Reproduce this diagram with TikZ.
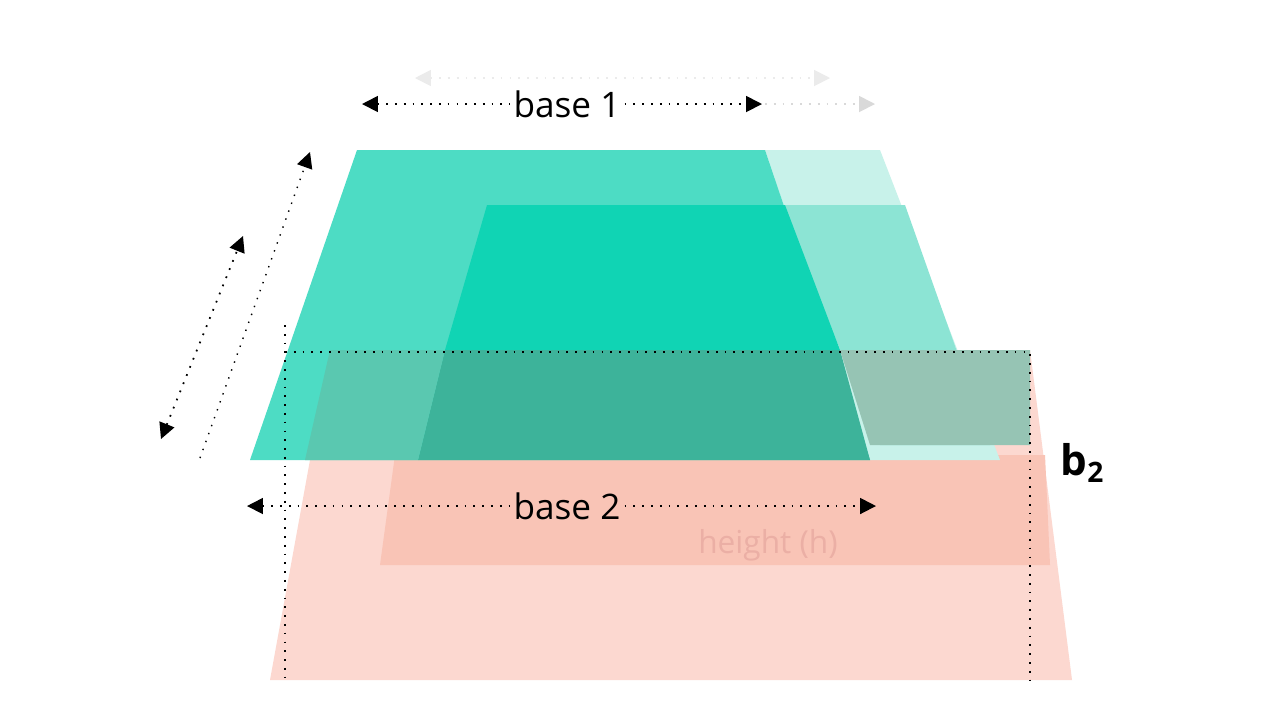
\documentclass[tikz,border=0pt]{standalone}
\usepackage{fontspec}
\setmainfont{Open Sans}
\usetikzlibrary{arrows.meta}
\begin{document}
\begin{tikzpicture}[x=0.01cm,y=-0.01cm,
  >={Triangle[length=4.5pt,width=4.5pt]},
  dimline/.style={dotted,line width=0.5pt},
  lbl/.style={font=\fontsize{10}{11}\selectfont,inner sep=1pt}]
\useasboundingbox (0,0) rectangle (1280,720);
\fill[white] (0,0) rectangle (1280,720);
% pink layers
\fill[fill={rgb,255:red,252;green,216;blue,208}] (330,350) -- (1030,350) -- (1072,680) -- (270,680) -- cycle;
\fill[fill={rgb,255:red,249;green,196;blue,182}] (395,455) -- (1045,455) -- (1050,565) -- (380,565) -- cycle;
% teal ghost on right
\fill[fill={rgb,255:red,200;green,242;blue,234}] (765,150) -- (880,150) -- (1000,460) -- (870,460) -- cycle;
\fill[fill={rgb,255:red,140;green,228;blue,212}] (780,205) -- (905,205) -- (990,445) -- (880,445) -- cycle;
% teal main
\fill[fill={rgb,255:red,77;green,220;blue,196}] (357,150) -- (765,150) -- (870,460) -- (250,460) -- cycle;
\fill[fill={rgb,255:red,16;green,212;blue,180}] (487,205) -- (785,205) -- (840,350) -- (445,350) -- cycle;
\fill[fill={rgb,255:red,61;green,179;blue,154}] (445,350) -- (840,350) -- (870,460) -- (418,460) -- cycle;
\fill[fill={rgb,255:red,90;green,200;blue,176}] (330,350) -- (445,350) -- (418,460) -- (305,460) -- cycle;
\fill[fill={rgb,255:red,150;green,196;blue,180}] (840,350) -- (1030,350) -- (1030,445) -- (870,445) -- cycle;
% dotted frame
\coordinate (f1) at (285,325); \coordinate (f2) at (285,352);
\coordinate (f3) at (1030,352); \coordinate (f4) at (1030,680); \coordinate (f5) at (285,680);
\draw[dimline] (f1) -- (f5) (f2) -- (f3) -- (f4);
% ghost arrows
\coordinate (g1) at (765,104); \coordinate (g2) at (875,104);
\draw[dimline,black!15,->] (g1) -- (g2);
\coordinate (g3) at (415,78); \coordinate (g4) at (830,78);
\draw[dimline,black!8,<->] (g3) -- (g4);
% base 1
\node[lbl] (b1) at (567,104) {base 1};
\coordinate (b1l) at (362,104); \coordinate (b1r) at (762,104);
\draw[dimline,<-] (b1l) -- (b1.west);
\draw[dimline,->] (b1.east) -- (b1r);
% base 2
\node[lbl] (b2) at (567,506) {base 2};
\coordinate (b2l) at (247,506); \coordinate (b2r) at (876,506);
\draw[dimline,<-] (b2l) -- (b2.west);
\draw[dimline,->] (b2.east) -- (b2r);
% left slanted arrows
\coordinate (s1) at (310,152); \coordinate (s2) at (200,458);
\draw[dotted,line width=0.4pt,->] (s2) -- (s1);
\coordinate (s3) at (243,236); \coordinate (s4) at (161,439);
\draw[dimline,<->] (s4) -- (s3);
% labels
\node[font=\bfseries\fontsize{12}{14}\selectfont] (bb) at (1083,463) {b\textsubscript{2}};
\node[text={rgb,255:red,235;green,175;blue,165},font=\fontsize{9}{10}\selectfont] (hh) at (768,545) {height (h)};
\end{tikzpicture}
\end{document}
